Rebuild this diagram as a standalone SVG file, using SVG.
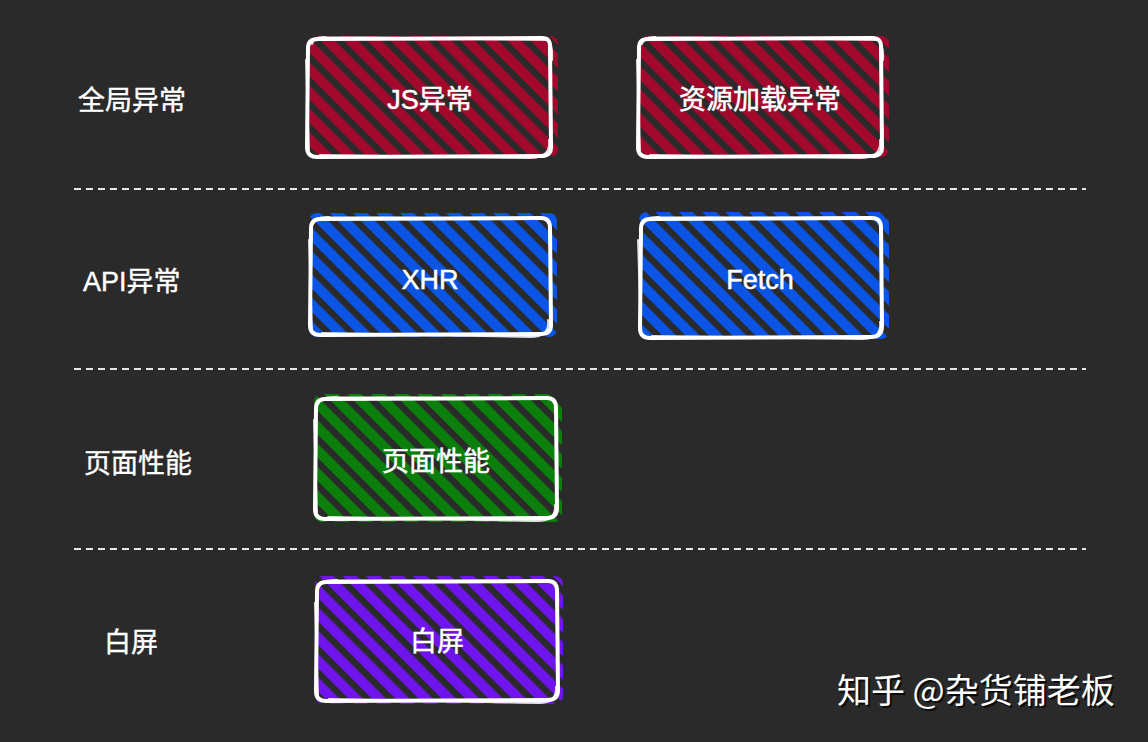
<svg xmlns="http://www.w3.org/2000/svg" width="1148" height="742" viewBox="0 0 1148 742">
<style>
.bg{fill:#2a2a2a}
.sep{stroke:#e6e6e6;stroke-width:2;stroke-dasharray:7 5;fill:none}
.border{fill:none;stroke:#ffffff;stroke-width:4;stroke-linecap:round;stroke-linejoin:round}
.border2{fill:none;stroke:#ffffff;stroke-width:2;stroke-linecap:round;opacity:0.85}
.lbl{font-family:"Liberation Sans","Noto Sans CJK SC",sans-serif;font-size:27px;fill:#ffffff;stroke:#ffffff;stroke-width:0.5;text-anchor:middle;dominant-baseline:central}
.side{font-family:"Liberation Sans","Noto Sans CJK SC",sans-serif;font-size:27px;fill:#ffffff;stroke:#ffffff;stroke-width:0.4}
.wm{font-family:"Noto Sans CJK SC",sans-serif;font-size:34px}
</style>
<defs>
<pattern id="hRed" patternUnits="userSpaceOnUse" width="16.5" height="16.5" patternTransform="rotate(-45)"><rect x="0" y="0" width="10" height="16.5" fill="#a3092d"/></pattern>
<pattern id="hBlue" patternUnits="userSpaceOnUse" width="16.5" height="16.5" patternTransform="rotate(-45)"><rect x="0" y="0" width="10" height="16.5" fill="#0b55e6"/></pattern>
<pattern id="hGreen" patternUnits="userSpaceOnUse" width="16.5" height="16.5" patternTransform="rotate(-45)"><rect x="0" y="0" width="10" height="16.5" fill="#0b7f0b"/></pattern>
<pattern id="hPurple" patternUnits="userSpaceOnUse" width="16.5" height="16.5" patternTransform="rotate(-45)"><rect x="0" y="0" width="10" height="16.5" fill="#6f14ec"/></pattern>
</defs>
<rect class="bg" x="0" y="0" width="1148" height="742"/>

<g id="connectors">
<line class="sep" x1="74" y1="189" x2="1086" y2="189"/>
<line class="sep" x1="74" y1="369" x2="1086" y2="369"/>
<line class="sep" x1="74" y1="549" x2="1086" y2="549"/>
</g>

<g id="row-labels">
<text class="side" x="78" y="110">全局异常</text>
<text class="side" x="83" y="291">API异常</text>
<text class="side" x="84" y="473">页面性能</text>
<text class="side" x="104" y="652">白屏</text>
</g>

<g id="node-js">
<rect x="309" y="36" width="249" height="121" rx="8" fill="url(#hRed)"/>
<path class="border" d="M318 39 L542 38 Q551 38 550 48 L551 146 Q552 156 541 156 L317 157 Q307 157 307 147 L308 48 Q308 39 318 39"/>
<path class="border2" d="M312 44 Q314 36 326 37 L548 40 Q553 44 552 60 M549 140 Q551 158 530 158 L320 155 M309 150 L306 60"/>
<text class="lbl" x="430" y="100">JS异常</text>
</g>

<g id="node-resource">
<rect x="639" y="36" width="250" height="121" rx="8" fill="url(#hRed)"/>
<path class="border" d="M648 39 L872 38 Q882 38 881 48 L882 146 Q883 156 872 156 L648 157 Q638 157 638 147 L639 48 Q639 39 648 39"/>
<path class="border2" d="M642 44 Q644 36 656 37 L878 40 Q884 44 883 60 M880 140 Q882 158 860 158 L650 155 M640 150 L637 60"/>
<text class="lbl" x="760" y="100">资源加载异常</text>
</g>

<g id="node-xhr">
<rect x="309" y="213" width="248" height="124" rx="8" fill="url(#hBlue)"/>
<path class="border" d="M320 219 L541 218 Q550 218 550 228 L551 325 Q551 334 541 334 L320 335 Q310 335 310 325 L311 229 Q311 219 320 219"/>
<path class="border2" d="M313 224 Q315 216 330 217 L546 219 Q551 223 550 240 M548 320 Q550 337 530 337 L322 333 M312 330 L309 240"/>
<text class="lbl" x="430" y="280">XHR</text>
</g>

<g id="node-fetch">
<rect x="639" y="212" width="250" height="127" rx="8" fill="url(#hBlue)"/>
<path class="border" d="M650 219 L872 218 Q881 218 881 228 L882 326 Q882 337 871 337 L650 338 Q640 338 640 328 L641 229 Q641 219 650 219"/>
<path class="border2" d="M643 224 Q645 216 660 217 L877 219 Q883 223 882 240 M880 322 Q882 340 860 339 L652 336 M641 333 L638 240"/>
<text class="lbl" x="760" y="280">Fetch</text>
</g>

<g id="node-perf">
<rect x="314" y="394" width="248" height="128" rx="8" fill="url(#hGreen)"/>
<path class="border" d="M325 399 L547 398 Q556 398 556 408 L557 508 Q557 518 547 518 L325 519 Q315 519 315 509 L316 409 Q316 399 325 399"/>
<path class="border2" d="M318 404 Q320 396 338 397 L552 399 Q558 403 557 420 M555 505 Q556 522 536 521 L328 517 M317 513 L314 420"/>
<text class="lbl" x="436" y="462">页面性能</text>
</g>

<g id="node-blank">
<rect x="315" y="576" width="248" height="128" rx="8" fill="url(#hPurple)"/>
<path class="border" d="M326 582 L548 581 Q557 581 557 591 L558 690 Q558 700 548 700 L326 701 Q316 701 316 691 L317 592 Q317 582 326 582"/>
<path class="border2" d="M319 587 Q321 579 338 580 L553 582 Q559 586 558 603 M556 687 Q557 704 537 703 L329 699 M318 695 L315 603"/>
<text class="lbl" x="437" y="642">白屏</text>
</g>

<g id="watermark">
<text class="wm" x="839" y="705" fill="#000000" opacity="0.7">知乎 @杂货铺老板</text>
<text class="wm" x="837" y="703" fill="#ffffff">知乎 @杂货铺老板</text>
</g>
</svg>
